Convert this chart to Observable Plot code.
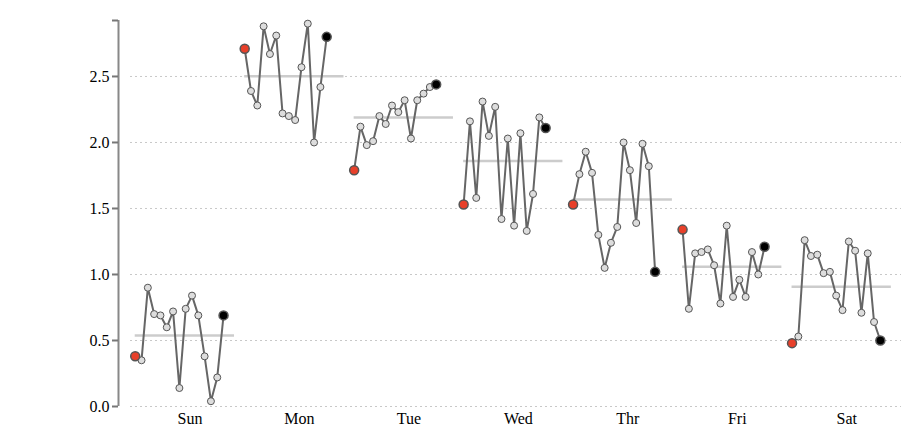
<!DOCTYPE html>
<html><head><meta charset="utf-8">
<script src="https://cdn.jsdelivr.net/npm/d3@7"></script>
<script src="https://cdn.jsdelivr.net/npm/@observablehq/plot@0.6"></script>
<style>body{margin:0;background:#fff}svg{font-family:"Liberation Serif","DejaVu Serif",serif}</style>
</head><body><div id="chart"></div>
<script>
const days = ["Sun", "Mon", "Tue", "Wed", "Thr", "Fri", "Sat"];
const sunValues = [0.38, 0.35, 0.90, 0.70, 0.69, 0.60, 0.72, 0.14, 0.74, 0.84, 0.69, 0.38, 0.04, 0.22, 0.69];
const monValues = [2.71, 2.39, 2.28, 2.88, 2.67, 2.81, 2.22, 2.20, 2.17, 2.57, 2.90, 2.00, 2.42, 2.80];
const tueValues = [1.79, 2.12, 1.98, 2.01, 2.20, 2.14, 2.28, 2.23, 2.32, 2.03, 2.32, 2.37, 2.42, 2.44];
const wedValues = [1.53, 2.16, 1.58, 2.31, 2.05, 2.27, 1.42, 2.03, 1.37, 2.07, 1.33, 1.61, 2.19, 2.11];
const thrValues = [1.53, 1.76, 1.93, 1.77, 1.30, 1.05, 1.24, 1.36, 2.00, 1.79, 1.39, 1.99, 1.82, 1.02];
const friValues = [1.34, 0.74, 1.16, 1.17, 1.19, 1.07, 0.78, 1.37, 0.83, 0.96, 0.83, 1.17, 1.00, 1.21];
const satValues = [0.48, 0.53, 1.26, 1.14, 1.15, 1.01, 1.02, 0.84, 0.73, 1.25, 1.18, 0.71, 1.16, 0.64, 0.50];
const yTicks = [0, 0.5, 1.0, 1.5, 2.0, 2.5];
const yMax = 2.924;

const series = [sunValues, monValues, tueValues, wedValues, thrValues, friValues, satValues];

// layout of the cycle plot: each day gets a band measured in "occurrence" units
const band = 17.35;      // band width per day, in occurrence steps
const meanSpan = 15.74;  // length of the mean line inside a band
const xLo = -2.65;       // left end of the x domain (room for the y axis)

const rows = days.flatMap((day, di) => series[di].map((v, i) => ({
  day, pos: di * band + i, v,
  role: i === 0 ? "first" : i === series[di].length - 1 ? "last" : "mid"
})));
const means = days.map((day, di) => ({
  day, x1: di * band, x2: di * band + meanSpan, mean: d3.mean(series[di])
}));

const chart = Plot.plot({
  width: 906,
  height: 443,
  marginLeft: 118,
  marginRight: 5,
  marginTop: 20,
  marginBottom: 37,
  style: {fontFamily: '"Liberation Serif", "DejaVu Serif", serif', fontSize: "16px", background: "#fff"},
  x: {domain: [xLo, days.length * band], axis: null},
  y: {domain: [0, yMax], axis: null},
  marks: [
    Plot.gridY(yTicks, {stroke: "#c8c8c8", strokeOpacity: 1, strokeDasharray: "2,3", insetLeft: 12}),
    Plot.ruleX([xLo], {y1: 0, y2: yMax, stroke: "#888", strokeWidth: 2}),
    Plot.axisY({
      ticks: [...yTicks, yMax],
      tickFormat: d => d === yMax ? "" : d3.format(".1f")(d),
      tickSize: 6, tickPadding: 3, stroke: "#777", strokeWidth: 2,
      fill: "#000", fontSize: 16, label: null
    }),
    Plot.axisX({
      ticks: days.map((d, i) => i * band + band / 2),
      tickFormat: v => days[Math.round((v - band / 2) / band)],
      tickSize: 0, tickPadding: 6, fill: "#000", fontSize: 16, label: null
    }),
    Plot.ruleY(means, {x1: "x1", x2: "x2", y: "mean", stroke: "#ccc", strokeWidth: 2.5}),
    Plot.line(rows, {x: "pos", y: "v", z: "day", stroke: "#666", strokeWidth: 2}),
    Plot.dot(rows.filter(d => d.role === "mid"), {x: "pos", y: "v", r: 3.5, fill: "#ddd", stroke: "#555", strokeWidth: 1}),
    Plot.dot(rows.filter(d => d.role === "first"), {x: "pos", y: "v", r: 4.5, fill: "#e8402a", stroke: "#555", strokeWidth: 1.5}),
    Plot.dot(rows.filter(d => d.role === "last"), {x: "pos", y: "v", r: 4.5, fill: "#000", stroke: "#555", strokeWidth: 1.5})
  ]
});
document.getElementById("chart").appendChild(chart);
</script>
</body></html>
